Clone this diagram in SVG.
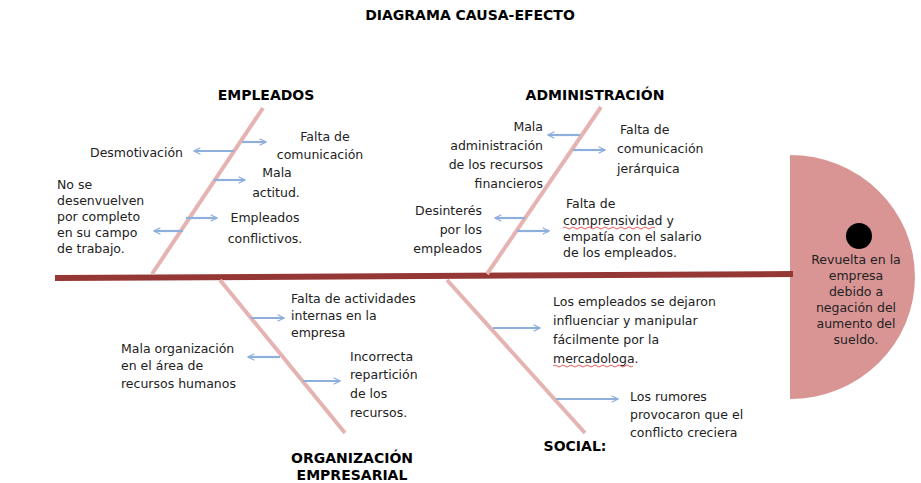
<svg xmlns="http://www.w3.org/2000/svg" width="921" height="483" viewBox="0 0 921 483">
<defs>
<marker id="ah" viewBox="0 0 10 10" refX="9" refY="5" markerWidth="8" markerHeight="8" orient="auto" markerUnits="userSpaceOnUse"><path d="M1,1 L9,5 L1,9" fill="none" stroke="#8eaedb" stroke-width="1.5"/></marker>
</defs>
<style>
text{font-family:"DejaVu Sans","Liberation Sans",sans-serif;font-size:12.5px;fill:#222}
.h{font-weight:bold;font-size:14px;fill:#000}
.bone{stroke:#e5b3b1;stroke-width:4}
.ar{stroke:#8eaedb;stroke-width:2.2;marker-end:url(#ah)}
.m{text-anchor:middle}
.e{text-anchor:end}
</style>
<rect width="921" height="483" fill="#fff"/>
<text class="h m" x="470" y="20">DIAGRAMA CAUSA-EFECTO</text>
<g id="head"><path d="M790,155 A125,122 0 0 1 790,399 Z" fill="#d99594"/><circle cx="859" cy="236" r="13" fill="#000"/>
<text class="m" x="856" y="264">Revuelta en la</text><text class="m" x="856" y="280">empresa</text><text class="m" x="856" y="296">debido a</text><text class="m" x="856" y="312">negación del</text><text class="m" x="856" y="328">aumento del</text><text class="m" x="856" y="344">sueldo.</text></g>
<g id="connectors">
<line x1="55" y1="278" x2="793" y2="274" stroke="#953735" stroke-width="6"/>
<line class="bone" x1="152" y1="274" x2="263" y2="108"/>
<line class="bone" x1="487" y1="274" x2="601" y2="107"/>
<line class="bone" x1="220" y1="280" x2="345" y2="433"/>
<line class="bone" x1="447" y1="280" x2="585" y2="433"/>
<line class="ar" x1="242" y1="142" x2="266" y2="142"/>
<line class="ar" x1="234" y1="151" x2="194" y2="151"/>
<line class="ar" x1="214" y1="180" x2="245" y2="180"/>
<line class="ar" x1="186" y1="218" x2="217" y2="218"/>
<line class="ar" x1="183" y1="231" x2="154" y2="231"/>
<line class="ar" x1="580" y1="135" x2="548" y2="135"/>
<line class="ar" x1="573" y1="150" x2="605" y2="150"/>
<line class="ar" x1="525" y1="218" x2="495" y2="218"/>
<line class="ar" x1="517" y1="231" x2="549" y2="231"/>
<line class="ar" x1="251" y1="318" x2="284" y2="318"/>
<line class="ar" x1="280" y1="357" x2="248" y2="357"/>
<line class="ar" x1="303" y1="381" x2="340" y2="381"/>
<line class="ar" x1="493" y1="328" x2="540" y2="328"/>
<line class="ar" x1="556" y1="399" x2="618" y2="399"/>
</g>
<g id="empleados"><text class="h m" x="266" y="100">EMPLEADOS</text>
<text class="m" x="325" y="141">Falta de</text><text class="m" x="320" y="159">comunicación</text>
<text x="90" y="157">Desmotivación</text>
<text class="m" x="277" y="177">Mala</text><text class="m" x="276" y="197">actitud.</text>
<text x="57" y="189">No se</text><text x="57" y="205">desenvuelven</text><text x="57" y="221">por completo</text><text x="57" y="237">en su campo</text><text x="57" y="253">de trabajo.</text>
<text class="m" x="265" y="222">Empleados</text><text class="m" x="265" y="243">conflictivos.</text></g>
<g id="administracion"><text class="h m" x="595" y="100">ADMINISTRACIÓN</text>
<text class="e" x="543" y="131">Mala</text><text class="e" x="543" y="150">administración</text><text class="e" x="543" y="169">de los recursos</text><text class="e" x="543" y="188">financieros</text>
<text x="620" y="134">Falta de</text><text x="617" y="153">comunicación</text><text x="617" y="173">jerárquica</text>
<text class="e" x="482" y="215">Desinterés</text><text class="e" x="482" y="234">por los</text><text class="e" x="482" y="253">empleados</text>
<text x="566" y="208">Falta de</text><text x="563" y="225">comprensividad y</text><text x="563" y="241">empatía con el salario</text><text x="563" y="257">de los empleados.</text>
<path d="M563,228 q2,-2 4,0 t4,0 t4,0 t4,0 t4,0 t4,0 t4,0 t4,0 t4,0 t4,0 t4,0 t4,0 t4,0 t4,0 t4,0 t4,0 t4,0 t4,0 t4,0 t4,0 t4,0 t4,0 t4,0" fill="none" stroke="#e03030" stroke-width="0.8"/></g>
<g id="organizacion"><text class="h m" x="352" y="463">ORGANIZACIÓN</text><text class="h m" x="352" y="480">EMPRESARIAL</text>
<text x="291" y="303">Falta de actividades</text><text x="291" y="320">internas en la</text><text x="291" y="337">empresa</text>
<text x="121" y="353">Mala organización</text><text x="121" y="370">en el área de</text><text x="121" y="388">recursos humanos</text>
<text x="350" y="361">Incorrecta</text><text x="350" y="379">repartición</text><text x="350" y="398">de los</text><text x="350" y="417">recursos.</text></g>
<g id="social"><text class="h m" x="575" y="451">SOCIAL:</text>
<text x="553" y="306">Los empleados se dejaron</text><text x="553" y="325">influenciar y manipular</text><text x="553" y="344">fácilmente por la</text><text x="553" y="363">mercadologa.</text>
<path d="M553,366 q2,-2 4,0 t4,0 t4,0 t4,0 t4,0 t4,0 t4,0 t4,0 t4,0 t4,0 t4,0 t4,0 t4,0 t4,0 t4,0 t4,0 t4,0 t4,0 t4,0 t4,0" fill="none" stroke="#e03030" stroke-width="0.8"/>
<text x="630" y="401">Los rumores</text><text x="630" y="419">provocaron que el</text><text x="630" y="437">conflicto creciera</text></g>
</svg>
